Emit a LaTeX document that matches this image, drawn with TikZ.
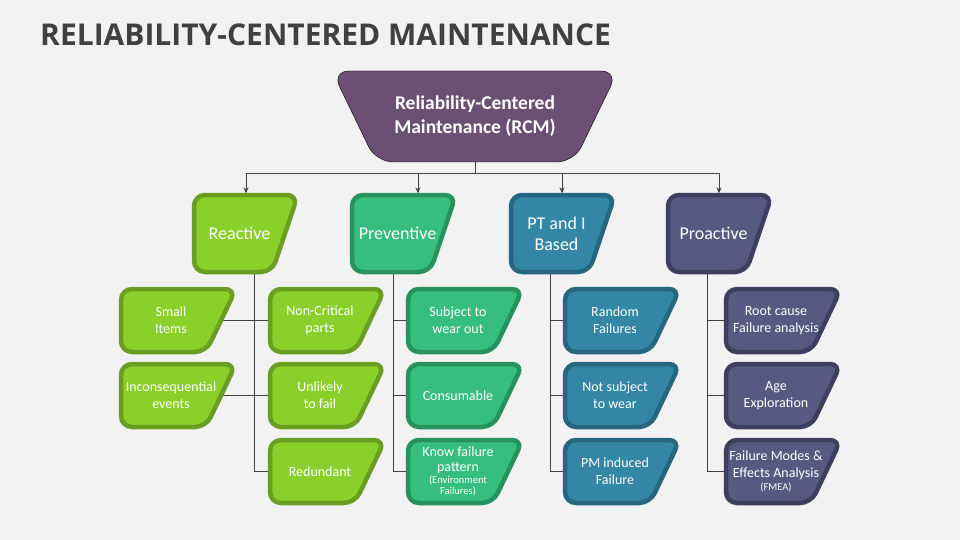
\documentclass[tikz,border=0pt]{standalone}
\usepackage{fontspec}
\setmainfont{Carlito}
\newfontfamily\titlefont{Open Sans}
\usetikzlibrary{arrows.meta}
\definecolor{bgc}{HTML}{F2F2F2}
\definecolor{ttl}{HTML}{404040}
\definecolor{lnc}{HTML}{404040}
\definecolor{topc}{HTML}{6C4F74}
\definecolor{rF}{HTML}{8BCF2B}\definecolor{rD}{HTML}{6A9E22}
\definecolor{pF}{HTML}{35BE7E}\definecolor{pD}{HTML}{28925F}
\definecolor{tF}{HTML}{3386A5}\definecolor{tD}{HTML}{27667F}
\definecolor{aF}{HTML}{575A80}\definecolor{aD}{HTML}{3E3F5E}
\pgfdeclarelayer{bgl}
\pgfdeclarelayer{lines}
\pgfsetlayers{bgl,lines,main}
\tikzset{
 react/.style={fill=rF,draw=rD},
 prev/.style={fill=pF,draw=pD},
 ptib/.style={fill=tF,draw=tD},
 proa/.style={fill=aF,draw=aD},
 boxshape/.style={line width=4.5pt, rounded corners=11pt},
 lbl/.style={inner sep=0pt, align=center, text=white},
 lvlone/.style={lbl, font=\fontsize{18}{21}\selectfont},
 lvltwo/.style={lbl, font=\fontsize{14}{17}\selectfont},
 conn/.style={draw=lnc, line width=0.9pt},
 arr/.style={conn, -{Stealth[length=6pt,width=5pt]}, shorten >=1.5pt},
}
\newcommand{\tbox}[9]{%
 \draw[boxshape,#7] (#2,#3) -- ({#2+#4},#3) -- ({#2+#4-#6},{#3+#5}) -- (#2,{#3+#5}) -- cycle;
 \node[#8, minimum width={#4pt-0.5*#6pt}, minimum height={#5pt}] (#1) at ({#2+0.5*(#4-0.5*#6)},{#3+0.5*#5}) {#9};
}
\newcommand{\smallln}{\fontsize{10.5}{12}\selectfont}
\begin{document}
\begin{tikzpicture}[x=1pt,y=-1pt]
\useasboundingbox (0,0) rectangle (960,540);
\begin{pgfonlayer}{bgl}
\fill[bgc] (0,0) rectangle (960,540);
\end{pgfonlayer}
% title
\node[anchor=west, inner sep=0pt, text=ttl, font=\titlefont\bfseries\fontsize{30}{36}\selectfont] (title) at (40,35) {RELIABILITY-CENTERED MAINTENANCE};
% top node
\draw[fill=topc, rounded corners=17pt] (332,71) -- (618,71) -- (574,162) -- (376,162) -- cycle;
\node[lbl, font=\bfseries\fontsize{19.5}{24}\selectfont, minimum width=200pt, minimum height=91pt] (rcm) at (475,116.5) {Reliability-Centered\\Maintenance (RCM)};
% level 1
\tbox{reactive}{194}{195}{104}{77}{26}{react}{lvlone}{Reactive}
\tbox{preventive}{352}{195}{104}{77}{26}{prev}{lvlone}{Preventive}
\tbox{ptbased}{511}{195}{104}{77}{26}{ptib}{lvlone}{PT and I\\Based}
\tbox{proactive}{668}{195}{104}{77}{26}{proa}{lvlone}{Proactive}
% reactive children
\tbox{small}{121}{289}{115}{63}{30}{react}{lvltwo}{Small\\Items}
\tbox{inconseq}{121}{364}{115}{63}{30}{react}{lvltwo}{Inconsequential\\events}
\tbox{noncrit}{270}{289}{115}{63}{30}{react}{lvltwo}{Non-Critical\\parts}
\tbox{unlikely}{270}{364}{115}{63}{30}{react}{lvltwo}{Unlikely\\to fail}
\tbox{redundant}{270}{440}{115}{63}{30}{react}{lvltwo}{Redundant}
% preventive children
\tbox{subject}{408}{289}{115}{63}{30}{prev}{lvltwo}{Subject to\\wear out}
\tbox{consum}{408}{364}{115}{63}{30}{prev}{lvltwo}{Consumable}
\tbox{knowfail}{408}{440}{115}{63}{30}{prev}{lvltwo}{Know failure\\[-2pt]pattern\\[-5pt]{\smallln (Environment}\\[-6pt]{\smallln Failures)}}
% pt children
\tbox{random}{565}{289}{115}{63}{30}{ptib}{lvltwo}{Random\\Failures}
\tbox{notsub}{565}{364}{115}{63}{30}{ptib}{lvltwo}{Not subject\\to wear}
\tbox{pminduced}{565}{440}{115}{63}{30}{ptib}{lvltwo}{PM induced\\Failure}
% proactive children
\tbox{rootcause}{726}{289}{115}{63}{30}{proa}{lvltwo}{Root cause\\Failure analysis}
\tbox{ageexp}{726}{364}{115}{63}{30}{proa}{lvltwo}{Age\\Exploration}
\tbox{fmea}{726}{440}{115}{63}{30}{proa}{lvltwo}{Failure Modes \&\\Effects Analysis\\[-4pt]{\smallln (FMEA)}}
% connectors
\begin{pgfonlayer}{lines}
\coordinate (hub) at (475,173);
\coordinate (busR) at (246,173);
\coordinate (busP) at (418,173);
\coordinate (busT) at (562,173);
\coordinate (busA) at (719,173);
\draw[conn] (rcm.south) -- (hub);
\draw[conn] (busR) -- (busA);
\draw[arr] (busR) -- (busR |- reactive.north);
\draw[arr] (busP) -- (busP |- preventive.north);
\draw[arr] (busT) -- (busT |- ptbased.north);
\draw[arr] (busA) -- (busA |- proactive.north);
\coordinate (rx) at (254,0);
\coordinate (px) at (393,0);
\coordinate (tx) at (550,0);
\coordinate (ax) at (707,0);
\draw[conn] (rx |- reactive.south) -- (rx |- redundant.west) -- (redundant.west);
\draw[conn] (small.east) -- (noncrit.west);
\draw[conn] (inconseq.east) -- (unlikely.west);
\draw[conn] (px |- preventive.south) -- (px |- knowfail.west) -- (knowfail.west);
\draw[conn] (px |- subject.west) -- (subject.west);
\draw[conn] (px |- consum.west) -- (consum.west);
\draw[conn] (tx |- ptbased.south) -- (tx |- pminduced.west) -- (pminduced.west);
\draw[conn] (tx |- random.west) -- (random.west);
\draw[conn] (tx |- notsub.west) -- (notsub.west);
\draw[conn] (ax |- proactive.south) -- (ax |- fmea.west) -- (fmea.west);
\draw[conn] (ax |- rootcause.west) -- (rootcause.west);
\draw[conn] (ax |- ageexp.west) -- (ageexp.west);
\end{pgfonlayer}
\end{tikzpicture}
\end{document}
